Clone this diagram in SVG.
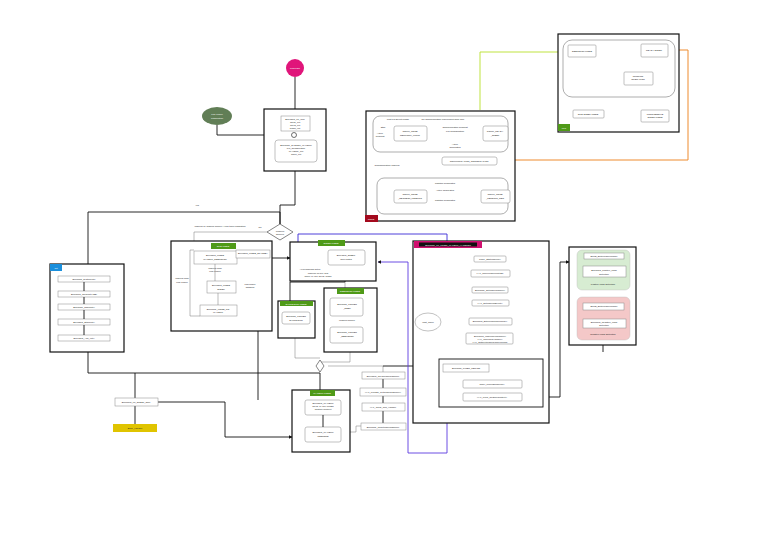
<svg xmlns="http://www.w3.org/2000/svg" width="768" height="545" viewBox="0 0 768 545">
<defs>
<style>
text{font-family:"Liberation Sans",Arial,sans-serif;font-size:2.3px;fill:#222;text-anchor:middle}
.box{fill:#fff;stroke:#111;stroke-width:1.2}
.nd{fill:#fff;stroke:#888;stroke-width:0.5}
.rr{fill:#fff;stroke:#999;stroke-width:0.6}
.ln{fill:none;stroke:#111;stroke-width:0.9}
.lt{fill:none;stroke:#777;stroke-width:0.5}
.gh{fill:#4f9a18}
.wt{fill:#fff}
</style>
<marker id="a" markerWidth="4" markerHeight="4" refX="3.5" refY="2" orient="auto"><path d="M0,0L4,2L0,4z" fill="#111"/></marker>
</defs>
<rect width="768" height="545" fill="#fff"/>

<g id="connectors">
<path class="ln" d="M295,77V109"/>
<path class="ln" d="M217,125V135H290" marker-end="url(#a)"/>
<path class="ln" d="M295,171V205H280V224"/>
<path class="ln" d="M280,224V212H88V264"/>
<path class="lt" d="M267,232H194V243" marker-end="url(#a)"/>
<path class="ln" d="M88,352V373H320"/>
<path class="ln" d="M320,373V390"/>
<path class="ln" d="M135,373V398"/>
<path class="ln" d="M135,406V424"/>
<path class="ln" d="M158,402H225V437H292" marker-end="url(#a)"/>
<path class="ln" d="M237,310H258V400"/>
<path class="lt" d="M295,338V358H320"/>
<path class="lt" d="M350,352V362H320"/>
<path class="lt" d="M328,366H383V372"/>
<path class="ln" d="M383,366H440"/>
<path class="lt" d="M350,432H356V426H361"/>
<path class="ln" d="M383,379V388M383,396V403M383,411V423"/>
<path class="ln" d="M272,258H290" marker-end="url(#a)"/>
<path class="ln" d="M345,268V282H290V301"/>
<path class="lt" d="M345,265V288"/>
<path class="ln" d="M347,316V327"/>
<path d="M298,242V234H447V241" fill="none" stroke="#3a2bd6" stroke-width="0.9"/>
<path d="M447,422V453H408V262H378" fill="none" stroke="#5b3be0" stroke-width="0.9" marker-end="url(#a)"/>
<path class="ln" d="M490,262V270M490,277V287M490,293V300M490,306V318M490,325V333"/>
<path class="ln" d="M490,344V352H466V364"/>
<path class="ln" d="M466,372V380M492,388V393"/>
<path class="ln" d="M522,397H560V262H569" marker-end="url(#a)"/>
<path class="ln" d="M603,345V352"/>
<path class="ln" d="M604,259V266M604,310V319"/>
<path d="M430,313V265H474" fill="none" stroke="#e6b13c" stroke-width="0.9"/>
<path d="M480,110V52H567" fill="none" stroke="#b8e02a" stroke-width="0.9" marker-end="url(#a)"/>
<path d="M669,50H688V160H499" fill="none" stroke="#ee8b2e" stroke-width="1" marker-end="url(#a)"/>
<path class="ln" d="M669,57V105H654V110"/>
<path class="ln" d="M641,116H604"/>
<path class="lt" d="M596,48H641M596,52H641M585,57L628,72M588,57L631,72M604,110L574,58M641,112L590,57M651,72L664,57M655,75L668,58M582,110V120H592V118" style="stroke:#333"/>
<path class="ln" d="M427,130H483M427,141H483"/>
<path class="ln" d="M427,194H481"/>
<path class="lt" d="M427,200H481"/>
<path class="ln" d="M495,141V157M465,165V178"/>
<path class="lt" d="M442,150V145M387,178V152"/>
<path class="ln" d="M388,130H394M388,138V126H394"/>
<path class="ln" d="M404,190V184H414V190"/>
</g>

<g id="n-power"><circle cx="295" cy="68" r="9" fill="#e0157a"/><text x="295" y="69" style="fill:#fff">PowerON</text></g>
<g id="n-lowpower"><ellipse cx="217" cy="116" rx="15" ry="9" fill="#617e56"/><text x="217" y="115" style="fill:#fff">Low Power</text><text x="217" y="119" style="fill:#fff">Initialization</text></g>

<g id="n-boxA">
<rect class="box" x="264" y="109" width="62" height="62"/>
<rect class="nd" x="281" y="116" width="29" height="15"/>
<text x="295" y="120">BlueNRG_LP_INIT</text><text x="295" y="123">Clock_Init</text><text x="295" y="126">GPIO_Init</text><text x="295" y="129">Radio_Init</text>
<circle cx="294" cy="135" r="2.5" fill="#fff" stroke="#111" stroke-width="0.6"/>
<rect class="rr" x="275" y="140" width="42" height="22" rx="3"/>
<text x="296" y="146">BlueNRG_SYSTEM_WAKEUP</text><text x="296" y="149">Pin_Configuration</text><text x="296" y="152">WAKEUP_Pin</text><text x="296" y="155">Timer_Init</text>
</g>

<g id="n-diamond"><path d="M280,224L293,232L280,240L267,232z" fill="#fff" stroke="#333" stroke-width="0.6"/><text x="280" y="232">Wakeup</text><text x="280" y="235">source?</text>
<text x="197" y="206">Yes</text><text x="260" y="228">No</text><text x="220" y="227">Wakeup by wakeup source / HPR timer calibration</text></g>

<g id="n-init">
<rect class="box" x="50" y="264" width="74" height="88"/>
<rect x="50" y="264" width="12" height="7" fill="#1a8fdc"/><text x="56" y="269" style="fill:#fff">Init</text>
<rect class="nd" x="58" y="276" width="52" height="6"/><text x="84" y="280">BlueNRG_SystemInit()</text>
<rect class="nd" x="58" y="291" width="52" height="6"/><text x="84" y="295">BlueNRG_ClockInit(HSE)</text>
<rect class="nd" x="58" y="304" width="52" height="6"/><text x="84" y="308">BlueNRG_RadioInit()</text>
<rect class="nd" x="58" y="319" width="52" height="6"/><text x="84" y="323">BlueNRG_StackInit()</text>
<rect class="nd" x="58" y="335" width="52" height="6"/><text x="84" y="339">BlueNRG_App_Init()</text>
<path class="ln" d="M84,282V291M84,297V304M84,310V319M84,325V335"/>
</g>

<g id="n-sleepon"><rect class="nd" x="115" y="398" width="43" height="8"/><text x="136" y="403">BlueNRG_LP_SLEEP_ON?</text></g>
<g id="n-error"><rect x="113" y="424" width="44" height="8" fill="#e0c400"/><text x="135" y="429">Error_Handler</text></g>

<g id="n-boxB">
<rect class="box" x="171" y="241" width="101" height="90"/>
<rect class="gh" x="211" y="243" width="25" height="6"/><text x="223" y="247" style="fill:#fff">IDLE MODE</text>
<rect class="nd" x="194" y="251" width="43" height="13"/><text x="215" y="256">BlueNRG_MODE</text><text x="215" y="260">WAKEUP_DEEPSTOP</text>
<rect class="nd" x="236" y="250" width="34" height="8"/><text x="253" y="254">BlueNRG_MODE_STANDBY</text>
<rect class="nd" x="207" y="281" width="29" height="12"/><text x="221" y="286">BlueNRG_MODE</text><text x="221" y="290">SLEEP</text>
<rect class="nd" x="200" y="305" width="37" height="11"/><text x="218" y="310">BlueNRG_MODE_NO</text><text x="218" y="313">WAKEUP</text>
<text x="182" y="279">Wakeup from</text><text x="182" y="283">Low Power</text>
<text x="215" y="269">Wakeup from</text><text x="215" y="272">Low Power</text>
<text x="250" y="285">Low power</text><text x="250" y="288">disabled</text>
<path class="lt" d="M215,281V264M218,305V293M190,316H200M190,316V250H194"/>
</g>

<g id="n-boxC">
<rect class="box" x="290" y="242" width="86" height="39"/>
<rect class="gh" x="318" y="240" width="27" height="6"/><text x="331" y="244" style="fill:#fff">SLEEP MODE</text>
<rect class="rr" x="328" y="250" width="37" height="15" rx="2"/><text x="346" y="256">BlueNRG_SLEEP</text><text x="346" y="260">CPU halted</text>
<text x="310" y="270">All peripherals active</text><text x="318" y="274">Wakeup on any IRQ</text><text x="318" y="277">Timer, UART, GPIO, Radio</text>
</g>

<g id="n-boxD">
<rect class="box" x="278" y="301" width="37" height="37"/>
<rect class="gh" x="280" y="301" width="33" height="5"/><text x="296" y="305" style="fill:#fff">SHUTDOWN MODE</text>
<rect class="rr" x="282" y="312" width="28" height="12" rx="2"/><text x="296" y="317">BlueNRG_POWER</text><text x="296" y="321">SHUTDOWN</text>
</g>

<g id="n-boxE">
<rect class="box" x="324" y="288" width="53" height="64"/>
<rect class="gh" x="337" y="288" width="27" height="6"/><text x="350" y="292" style="fill:#fff">DEEPSTOP MODE</text>
<rect class="rr" x="330" y="298" width="33" height="18" rx="2"/><text x="347" y="305">BlueNRG_POWER</text><text x="347" y="309">_DEEP</text>
<rect class="rr" x="330" y="327" width="33" height="16" rx="2"/><text x="347" y="333">BlueNRG_POWER</text><text x="347" y="337">_DEEPSTOP</text>
<text x="347" y="321">Wakeup source</text>
</g>

<g id="n-junction"><path d="M320,360L324,366L320,372L316,366z" fill="#fff" stroke="#333" stroke-width="0.6"/></g>

<g id="n-boxF">
<rect class="box" x="292" y="390" width="58" height="62"/>
<rect class="gh" x="310" y="390" width="25" height="6"/><text x="322" y="394" style="fill:#fff">WAKEUP MODE</text>
<rect class="rr" x="305" y="400" width="36" height="15" rx="2"/><text x="323" y="404">BlueNRG_WAKEUP</text><text x="323" y="407">GPIO, UART, TIMER</text><text x="323" y="410">Restore Context</text>
<rect class="rr" x="305" y="427" width="36" height="15" rx="2"/><text x="323" y="433">BlueNRG_WAKEUP</text><text x="323" y="437">RESTORE</text>
<path class="ln" d="M323,415V427"/>
</g>

<g id="n-colG">
<rect class="nd" x="362" y="372" width="43" height="7"/><text x="383" y="377">BlueNRG_GPIOWakeupSource</text>
<rect class="nd" x="360" y="388" width="46" height="8"/><text x="383" y="393">HAL_PWREx_GetWakeupSource()</text>
<rect class="nd" x="362" y="403" width="43" height="8"/><text x="383" y="408">HAL_GPIO_IRQ_Handler</text>
<rect class="nd" x="361" y="423" width="45" height="7"/><text x="383" y="428">BlueNRG_ResetWakeupSource</text>
</g>

<g id="n-boxH">
<rect class="box" x="413" y="241" width="136" height="182"/>
<rect x="414" y="241" width="68" height="7" fill="#d0106f"/><rect x="419" y="242.5" width="58" height="4" fill="#111"/><text x="448" y="245.8" style="fill:#fff">BlueNRG_LP_TIMER_WAKEUP_HANDLER</text>
<rect class="rr" x="474" y="256" width="32" height="6" rx="1"/><text x="490" y="260">Timer_StartWakeup()</text>
<rect class="rr" x="471" y="270" width="39" height="7" rx="1"/><text x="490" y="274">HAL_TimerWakeupInit(2s)</text>
<rect class="rr" x="472" y="287" width="36" height="6" rx="1"/><text x="490" y="291">BlueNRG_SetWakeupTimer()</text>
<rect class="rr" x="472" y="300" width="37" height="6" rx="1"/><text x="490" y="304">HAL_SetWakeupEvent()</text>
<rect class="rr" x="469" y="318" width="43" height="7" rx="1"/><text x="490" y="322">BlueNRG_EnterLowPowerMode()</text>
<rect class="rr" x="466" y="333" width="47" height="11" rx="1"/><text x="490" y="337">BlueNRG_WakeupFromTimer()</text><text x="490" y="340">HAL_TimerIRQHandler()</text><text x="490" y="343">HAL_SetNextWakeupTime(period)</text>
<rect class="box" x="439" y="359" width="104" height="48" style="stroke-width:0.9"/>
<rect class="nd" x="443" y="364" width="46" height="8"/><text x="466" y="369">BlueNRG_TIMER_PERIOD</text>
<rect class="rr" x="463" y="380" width="59" height="8" rx="1"/><text x="492" y="385">Timer_ProcessWakeup()</text>
<rect class="rr" x="463" y="393" width="59" height="8" rx="1"/><text x="492" y="398">HAL_PWR_RestoreContext()</text>
<ellipse cx="428" cy="322" rx="13" ry="9" fill="#fff" stroke="#999" stroke-width="0.6"/><text x="428" y="323">Wait_Timer</text>
</g>

<g id="n-boxI">
<rect class="box" x="569" y="247" width="67" height="98"/>
<rect x="577" y="250" width="53" height="40" rx="5" fill="#d7ecd2" stroke="#bbb" stroke-width="0.4"/>
<rect class="nd" x="584" y="253" width="40" height="6"/><text x="604" y="257">BLUE_EnterWakeupMode</text>
<rect class="nd" x="583" y="266" width="43" height="11"/><text x="604" y="271">BlueNRG_Positive_Mbar</text><text x="604" y="275">Detection</text>
<text x="603" y="285">Positive Mbar Detection</text>
<rect x="577" y="297" width="53" height="43" rx="5" fill="#f4c8c8" stroke="#bbb" stroke-width="0.4"/>
<rect class="nd" x="583" y="303" width="41" height="7"/><text x="604" y="307">BLUE_EnterWakeupMode</text>
<rect class="nd" x="583" y="319" width="43" height="9"/><text x="604" y="323">BlueNRG_Negative_Mbar</text><text x="604" y="326">Detection</text>
<text x="603" y="335">Negative Mbar Detection</text>
</g>

<g id="n-boxJ">
<rect class="box" x="558" y="34" width="121" height="98"/>
<rect x="563" y="40" width="112" height="57" rx="9" fill="none" stroke="#777" stroke-width="0.6"/>
<rect x="558" y="124" width="12" height="7" class="gh"/><text x="564" y="129" style="fill:#fff">LPC</text>
<rect class="rr" x="568" y="45" width="28" height="12" rx="1"/><text x="582" y="52">DEEPSTOP MODE</text>
<rect class="rr" x="641" y="44" width="27" height="13" rx="1"/><text x="654" y="51">READY SLEEP</text>
<rect class="rr" x="624" y="72" width="29" height="13" rx="1"/><text x="638" y="77">RUNNING</text><text x="638" y="80">OPERATION</text>
<rect class="rr" x="573" y="110" width="31" height="8" rx="1"/><text x="588" y="115">IDLE SLEEP MODE</text>
<rect class="rr" x="641" y="110" width="28" height="12" rx="1"/><text x="655" y="115">PROGRESSIVE</text><text x="655" y="118">SLEEP MODE</text>
</g>

<g id="n-boxK">
<rect class="box" x="366" y="111" width="149" height="110"/>
<rect x="365" y="215" width="13" height="7" fill="#a3091d"/><text x="371" y="220" style="fill:#fff">CORE</text>
<rect x="373" y="116" width="135" height="36" rx="7" fill="none" stroke="#777" stroke-width="0.6"/>
<text x="398" y="120">Wait For Event Phase</text><text x="443" y="120">No Communication requirement from core</text>
<text x="383" y="128">Stop</text><text x="380" y="134">Active</text><text x="380" y="137">Request</text>
<rect class="rr" x="394" y="126" width="33" height="15" rx="2"/><text x="410" y="132">COMM_CORE</text><text x="410" y="136">NETWORK_MGMT</text>
<text x="455" y="128">Communication Request</text><text x="455" y="132">Full Configuration</text><text x="455" y="145">Active</text><text x="455" y="148">Requested</text>
<rect class="rr" x="483" y="126" width="25" height="15" rx="2"/><text x="495" y="132">COMM_READY</text><text x="495" y="136">_SLEEP</text>
<rect class="rr" x="442" y="157" width="55" height="8" rx="2"/><text x="469" y="162">COMMUNICATION_COORDINATION</text>
<text x="387" y="166">Communication Wakeup</text>
<rect x="377" y="178" width="131" height="36" rx="7" fill="none" stroke="#777" stroke-width="0.6"/>
<text x="445" y="184">Partition Requested</text><text x="445" y="191">Active Requested</text><text x="445" y="201">Partition Requested</text>
<rect class="rr" x="394" y="190" width="33" height="13" rx="2"/><text x="410" y="195">COMM_CORE</text><text x="410" y="199">_REQUEST_PENDING</text>
<rect class="rr" x="481" y="190" width="29" height="13" rx="2"/><text x="495" y="195">COMM_CORE</text><text x="495" y="199">_PENDING_REQ</text>
</g>
</svg>
